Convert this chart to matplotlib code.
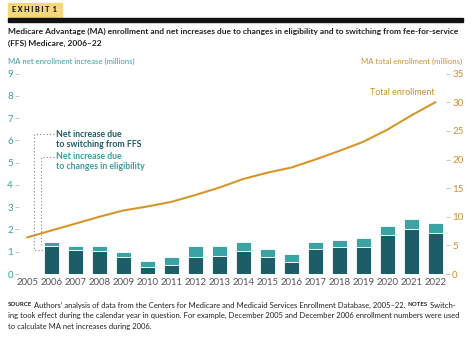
import numpy as np
import matplotlib.pyplot as plt
from matplotlib.patches import Rectangle

plt.rcParams['font.family'] = ['Lato', 'DejaVu Sans']

# DATA
years = list(range(2005, 2023))
bar_years = years[1:]
switching = [1.25, 1.07, 1.02, 0.75, 0.33, 0.42, 0.75, 0.81, 1.05, 0.78, 0.56,
             1.11, 1.23, 1.23, 1.74, 2.04, 1.83]
eligibility = [0.18, 0.19, 0.24, 0.25, 0.26, 0.33, 0.51, 0.45, 0.41, 0.33, 0.33,
               0.35, 0.30, 0.38, 0.42, 0.45, 0.45]
total = [6.4, 7.6, 8.8, 10.0, 11.1, 11.8, 12.6, 13.8, 15.1, 16.6, 17.7, 18.6,
         20.0, 21.5, 23.1, 25.2, 27.7, 30.0]
left_ticks = list(range(0, 10))
right_ticks = list(range(0, 40, 5))

dark = '#1c5d68'
light = '#3ba3a3'
orange = '#d8952c'
teal_txt = '#3e9c9c'
orange_txt = '#c98f35'

fig = plt.figure(figsize=(4.74, 3.39), dpi=100)
fig.canvas.draw()
r = fig.canvas.get_renderer()


def fit(t, width_px):
    # shrink a text until it spans the given width in pixels
    w = t.get_window_extent(r).width
    t.set_fontsize(t.get_fontsize() * width_px / w)
    return t


# header
fig.patches.append(Rectangle((8 / 474, 1 - 17 / 339), 54 / 474, 14 / 339,
                             transform=fig.transFigure, color='#f6d87c', zorder=0))
fig.text(12 / 474, 1 - 10 / 339, 'E X H I B I T  1', fontsize=5.1, fontweight='heavy',
         color='#222222', va='center')
fig.patches.append(Rectangle((8 / 474, 1 - 21.5 / 339), 455 / 474, 3 / 339,
                             transform=fig.transFigure, color='#111111'))
t1 = fig.text(8 / 474, 1 - 31.5 / 339,
              'Medicare Advantage (MA) enrollment and net increases due to changes in eligibility and to switching from fee-for-service',
              fontsize=7, fontweight='bold', color='#222222', va='center')
fit(t1, 454)
fig.text(8 / 474, 1 - 43.5 / 339, '(FFS) Medicare, 2006\u201322',
         fontsize=t1.get_fontsize(), fontweight='bold', color='#222222', va='center')

ax = fig.add_axes([19 / 474, 65 / 339, 427 / 474, 207 / 339])
ax2 = ax.twinx()
ax.set_zorder(2)
ax.patch.set_visible(False)

ax.bar(bar_years, switching, width=0.62, color=dark, edgecolor='white', linewidth=0.6)
ax.bar(bar_years, eligibility, width=0.62, bottom=switching, color=light,
       edgecolor='white', linewidth=0.6)
ax2.plot(years, total, color=orange, linewidth=1.5)

ax.set_xlim(2004.65, 2022.45)
ax.set_ylim(0, 9.3)
ax2.set_ylim(0, 9.3 * 35 / 9)
ax.set_xticks(years)
ax.set_xticklabels([str(y) for y in years], fontsize=6.8, color='#555555')
ax.set_yticks(left_ticks)
ax2.set_yticks(right_ticks)
ax.tick_params(axis='x', length=0, pad=3)
ax.tick_params(axis='y', length=3, width=0.6, color='#bbbbbb', labelcolor=teal_txt,
               labelsize=7, pad=1.5)
ax2.tick_params(axis='y', length=3, width=0.6, color='#bbbbbb', labelcolor=orange_txt,
                labelsize=7, pad=1.5)
for a in (ax, ax2):
    for s in a.spines.values():
        s.set_visible(False)

fig.text(8 / 474, 1 - 61 / 339, 'MA net enrollment increase (millions)', fontsize=5.6,
         color=teal_txt, va='center')
fig.text(462 / 474, 1 - 61 / 339, 'MA total enrollment (millions)', fontsize=5.6,
         color=orange_txt, va='center', ha='right')

ax2.text(2021.95, 31.0, 'Total enrollment', fontsize=6.4, color=orange_txt,
         ha='right', va='bottom')

# legend callouts
ax.text(2006.2, 6.05, 'Net increase due\nto switching from FFS', fontsize=6.3,
        color=dark, fontweight='bold', va='center', linespacing=1.1)
ax.text(2006.2, 5.05, 'Net increase due\nto changes in eligibility', fontsize=6.3,
        color=teal_txt, fontweight='bold', va='center', linespacing=1.1)
ax.plot([2006.1, 2005.27, 2005.27, 2005.7], [6.3, 6.3, 1.1, 1.1], ls=(0, (1, 2)),
        color='#888888', lw=0.8, clip_on=False)
ax.plot([2006.1, 2005.55, 2005.55], [5.25, 5.25, 1.32], ls=(0, (1, 2)),
        color='#888888', lw=0.8, clip_on=False)

# footnote
y1 = 1 - 305 / 339
lh = 10.5 / 339
fs = 6.0
l2 = fig.text(8 / 474, y1 - lh, 'ing took effect during the calendar year in question. For example, December 2005 and December 2006 enrollment numbers were used',
              fontsize=fs, color='#222222', va='center')
fit(l2, 454)
fs = l2.get_fontsize()
fig.text(8 / 474, y1 - 2 * lh, 'to calculate MA net increases during 2006.',
         fontsize=fs, color='#222222', va='center')
parts = [('SOURCE', True, fs * 0.8), (' Authors\u2019 analysis of data from the Centers for Medicare and Medicaid Services Enrollment Database, 2005\u201322. ', False, fs),
         ('NOTES', True, fs * 0.8), (' Switch-', False, fs)]
x = 8 / 474
for txt, bold, size in parts:
    t = fig.text(x, y1, txt, fontsize=size, fontweight='bold' if bold else 'normal',
                 color='#222222', va='center')
    x += t.get_window_extent(r).width / fig.bbox.width

fig.savefig('out.png', dpi=100)
